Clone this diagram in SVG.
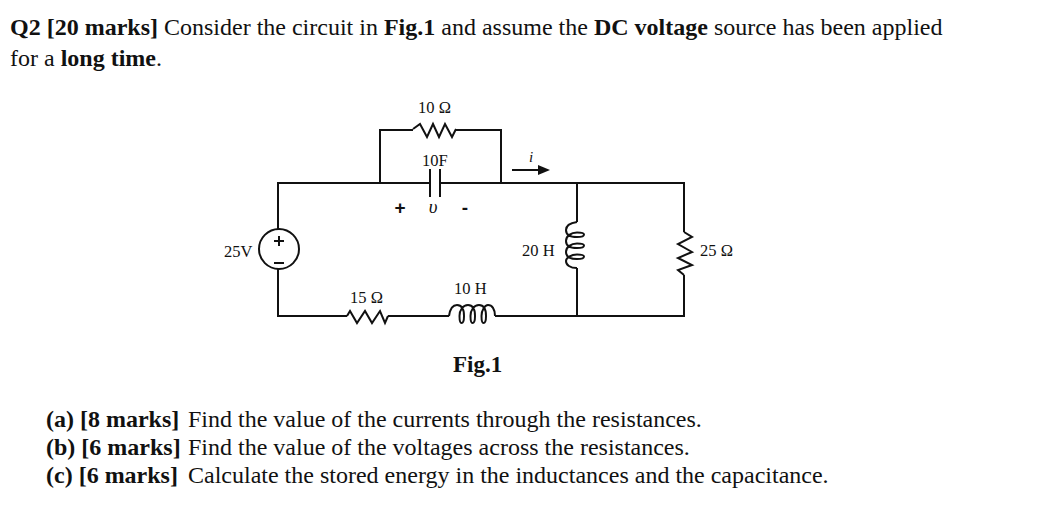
<svg xmlns="http://www.w3.org/2000/svg" width="1043" height="505" viewBox="0 0 1043 505">
<style>
text{font-family:"Liberation Serif","Times New Roman",serif;fill:#111}
.q{font-size:24px}
.l{font-size:16.5px}
.w{fill:none;stroke:#111;stroke-width:2;stroke-linejoin:miter}
.b{font-weight:bold}
.s{font-family:"Liberation Sans",Arial,sans-serif;font-weight:bold;font-size:19px;text-anchor:middle}
</style>
<defs>
<path id="ind" class="w" d="M0 0C1 -7 4 -11 8 -11C13 -11 15 -6 15 0C15 5 14 7 12.500 7C11 7 10.500 4 10.500 0C10.500 -6 14 -11 19 -11C24 -11 26 -6 26 0C26 5 25 7 23.500 7C22 7 21.500 4 21.500 0C21.500 -6 25 -11 30 -11C35 -11 37 -6 37 0C37 5 36 7 34.500 7C33 7 32.500 4 32.500 0C32.500 -6 36 -11 39 -11C43 -11 46 -7 46 0"/>
</defs>
<g id="text-top">
<text class="q" x="10" y="35"><tspan class="b">Q2 [20 marks]</tspan> Consider the circuit in <tspan class="b">Fig.1</tspan> and assume the <tspan class="b">DC voltage</tspan> source has been applied</text>
<text class="q" x="10" y="66">for a <tspan class="b">long time</tspan>.</text>
</g>
<g id="connectors">
<path class="w" d="M278 229V183H430M440 183H684V232M684 275V316H495M449 316H388M347 316H278V269M577 183V222M577 268V316M380 183V130H413M456 130H501V183"/>
</g>
<g id="source-25V">
<circle class="w" cx="279" cy="249" r="20"/>
<path class="w" d="M274 241H284M279 236V246M274 263H284"/>
<text class="l" x="224" y="257">25V</text>
</g>
<g id="resistor-10">
<path class="w" d="M413 129L420 124L427 137L433 124L439 137L445 124L452 137L456 129"/>
<text class="l" x="418" y="113">10 Ω</text>
</g>
<g id="capacitor-10F">
<path class="w" d="M430 169V197M440 169V197"/>
<text class="l" x="422" y="166">10F</text>
<text class="s" x="400" y="214">+</text>
<text x="433" y="213" style="font-style:italic;font-size:19px;text-anchor:middle">υ</text>
<text class="s" x="465" y="214">-</text>
</g>
<g id="current-i">
<path class="w" d="M512 170H540"/>
<path d="M550 170L538 165V175Z" fill="#111"/>
<text x="529" y="162" style="font-style:italic;font-size:15px">i</text>
</g>
<g id="resistor-15">
<path class="w" d="M347 316L350 311L357 323L365 311L372 323L380 311L385 323L388 316"/>
<text class="l" x="350" y="303">15 Ω</text>
</g>
<g id="inductor-10H">
<use href="#ind" transform="translate(449 316)"/>
<text class="l" x="454" y="294">10 H</text>
</g>
<g id="inductor-20H">
<use href="#ind" transform="matrix(0 1 1 0 577 222)"/>
<text class="l" x="522" y="256">20 H</text>
</g>
<g id="resistor-25">
<path class="w" d="M684 232L692 237L678 244L692 252L678 258L692 265L678 270L684 275"/>
<text class="l" x="700" y="256">25 Ω</text>
</g>
<g id="fig-label">
<text x="453" y="372" class="b" style="font-size:23px">Fig.1</text>
</g>
<g id="text-bottom">
<text class="q" x="46" y="427"><tspan class="b">(a) [8 marks]</tspan><tspan x="188">Find the value of the currents through the resistances.</tspan></text>
<text class="q" x="46" y="455"><tspan class="b">(b) [6 marks]</tspan><tspan x="188">Find the value of the voltages across the resistances.</tspan></text>
<text class="q" x="46" y="483"><tspan class="b">(c) [6 marks]</tspan><tspan x="188">Calculate the stored energy in the inductances and the capacitance.</tspan></text>
</g>
</svg>
